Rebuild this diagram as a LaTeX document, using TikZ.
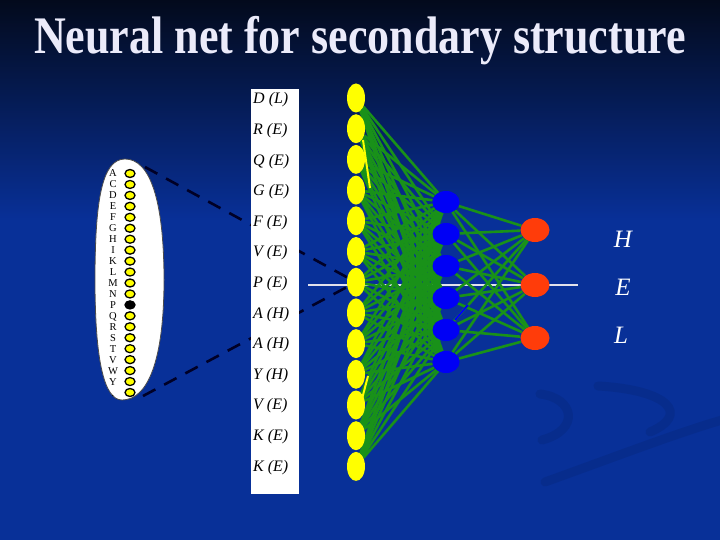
\documentclass[tikz,border=0pt]{standalone}
\usepackage{fontspec}
\setmainfont{Liberation Serif}
\usetikzlibrary{shapes.geometric}
\definecolor{bgblue}{RGB}{8,48,152}
\definecolor{bgtop}{RGB}{3,10,28}
\definecolor{netgreen}{RGB}{25,145,25}
\definecolor{ynode}{RGB}{255,255,0}
\definecolor{hnode}{RGB}{0,0,245}
\definecolor{onode}{RGB}{255,60,10}
\definecolor{titlecol}{RGB}{235,235,250}
\definecolor{axisline}{RGB}{225,225,235}
\pgfdeclarelayer{bg}
\pgfdeclarelayer{mid}
\pgfsetlayers{bg,mid,main}
\begin{document}
\begin{tikzpicture}[x=1pt,y=-1pt,
  yel/.style={ellipse,fill=ynode,minimum width=18pt,minimum height=29pt,inner sep=0pt},
  hid/.style={ellipse,fill=hnode,minimum width=27pt,minimum height=22pt,inner sep=0pt},
  outn/.style={ellipse,fill=onode,minimum width=29pt,minimum height=24pt,inner sep=0pt},
  inc/.style={ellipse,fill=ynode,draw=black,line width=1.3pt,minimum width=10pt,minimum height=8pt,inner sep=0pt},
  conn/.style={draw=netgreen,line width=2.6pt},
  dline/.style={draw=black!85!blue,line width=2.6pt,dash pattern=on 14pt off 10pt},
  lab/.style={anchor=west,font=\itshape\fontsize{16}{18}\selectfont,inner sep=0pt},
  aa/.style={anchor=base,font=\fontsize{10.5}{11}\selectfont,inner sep=0pt},
  outlab/.style={font=\itshape\fontsize{25}{28}\selectfont,text=white},
  swoosh/.style={draw=black,opacity=0.08,line width=9pt,line cap=round}]
\useasboundingbox (0,0) rectangle (720,540);
% yellow input nodes
\foreach \i in {0,...,12}{
  \node[yel] (y\i) at (356,{98+30.7*\i}) {};
}
\foreach \j in {0,...,5}{
  \node[hid] (h\j) at (446,{202+32*\j}) {};
}
\node[outn] (o0) at (535,230) {};
\node[outn] (o1) at (535,285) {};
\node[outn] (o2) at (535,338) {};
\begin{pgfonlayer}{bg}
  \fill[bgblue] (0,0) rectangle (720,540);
  \shade[top color=bgtop,bottom color=bgblue] (0,0) rectangle (720,220);
  \draw[swoosh] (545,482) .. controls (620,455) and (680,432) .. (722,420);
  \draw[swoosh] (598,386) .. controls (670,390) and (690,415) .. (650,432);
  \draw[swoosh] (540,394) .. controls (575,398) and (580,430) .. (542,440);
  % window (rounded oval)
  \filldraw[fill=white,draw=black!70,line width=0.8pt]
    (125,159) .. controls (150,159) and (164,200) .. (164,280)
    .. controls (164,360) and (148,400) .. (122,400)
    .. controls (104,400) and (95,360) .. (95,280)
    .. controls (95,200) and (102,159) .. (125,159) -- cycle;
  \coordinate (wtop) at (145,167);
  \coordinate (wbot) at (143,396);
  \draw[dline] (wtop) -- (y6);
  \draw[dline] (wbot) -- (y6);
  \node[fill=white,anchor=north west,minimum width=48pt,minimum height=405pt,inner sep=0pt] (box) at (251,89) {};
  \coordinate (wl1) at (308,285);
  \coordinate (wl2) at (578,285);
  \draw[axisline,line width=2pt] (wl1) -- (wl2);
\end{pgfonlayer}
\begin{pgfonlayer}{mid}
  \foreach \i in {0,...,12}{
    \foreach \j in {0,...,5}{
      \draw[conn] (y\i) -- (h\j);
    }
  }
  \foreach \j in {0,...,5}{
    \foreach \k in {0,1,2}{
      \draw[conn] (h\j) -- (o\k);
    }
  }
  \coordinate (ys1) at (363,140);
  \coordinate (ys2) at (370,188);
  \coordinate (ys3) at (368,376);
  \coordinate (ys4) at (362,399);
  \draw[ynode,line width=2pt] (ys1) -- (ys2);
  \draw[ynode,line width=2pt] (ys3) -- (ys4);
  \coordinate (bs1) at (455,320);
  \coordinate (bs2) at (468,305);
  \draw[hnode,line width=2pt] (bs1) -- (bs2);
\end{pgfonlayer}
% title
\node[anchor=base,inner sep=0pt,text=titlecol] (title) at (360,54) {\scalebox{1}[1.2]{\fontsize{44}{48}\selectfont\bfseries Neural net for secondary structure}};
% amino acid window
\foreach \l [count=\i from 0] in {A,C,D,E,F,G,H,I,K,L,M,N,P,Q,R,S,T,V,W,Y,.}{
  \node[aa] (lt\i) at (113,{177+10.95*\i}) {\l};
  \ifnum\i=12
    \node[inc,fill=black] (in\i) at (130,{173.5+10.95*\i}) {};
  \else
    \node[inc] (in\i) at (130,{173.5+10.95*\i}) {};
  \fi
}
% sequence labels
\foreach \t [count=\i from 0] in {D (L),R (E),Q (E),G (E),F (E),V (E),P (E),A (H),A (H),Y (H),V (E),K (E),K (E)}{
  \node[lab] (s\i) at (253,{100+30.6*\i}) {\t};
}
\node[outlab] (lH) at (623,239) {H};
\node[outlab] (lE) at (623,287) {E};
\node[outlab] (lL) at (621,335) {L};
\end{tikzpicture}
\end{document}
